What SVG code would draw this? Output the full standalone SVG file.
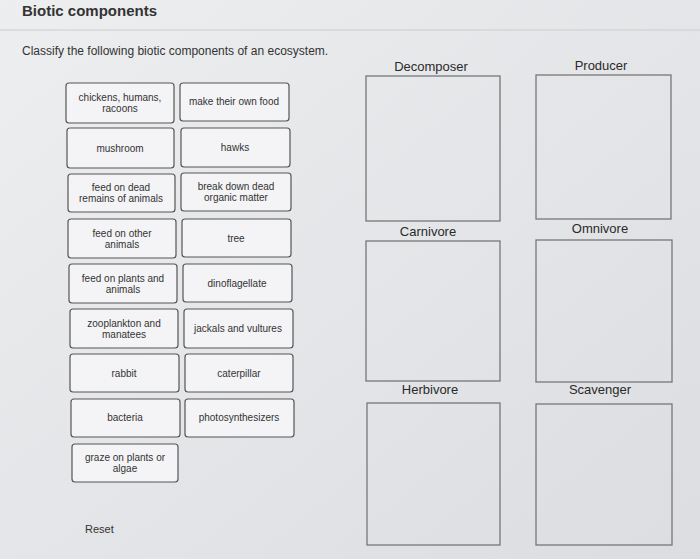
<svg xmlns="http://www.w3.org/2000/svg" width="700" height="559" viewBox="0 0 700 559">
<defs>
<linearGradient id="bg" x1="0" y1="0" x2="1" y2="1"><stop offset="0" stop-color="#eceef0"/><stop offset="1" stop-color="#dcdde0"/></linearGradient>
</defs>
<style>
text{font-family:"Liberation Sans",Arial,sans-serif;fill:#333}
.c rect{fill:#f4f4f6;stroke:#555;stroke-width:1.2}
.c text{font-size:10px;text-anchor:middle}
.b rect{fill:none;stroke:#777;stroke-width:1.3}
.b text{font-size:13px;text-anchor:middle;fill:#2a2a2a}
</style>
<rect width="700" height="559" fill="url(#bg)"/>
<text x="22" y="16" font-size="15" font-weight="bold" fill="#222">Biotic components</text>
<line x1="0" y1="30" x2="700" y2="30" stroke="#ccc"/>
<text x="22" y="55" font-size="12">Classify the following biotic components of an ecosystem.</text>
<g id="n1" class="c"><rect x="66" y="83" width="108" height="40" rx="3"/><text x="120" y="101">chickens, humans,</text><text x="120" y="112">racoons</text></g>
<g id="n2" class="c"><rect x="180" y="83" width="109" height="38" rx="3"/><text x="234" y="105">make their own food</text></g>
<g id="n3" class="c"><rect x="67" y="128" width="107" height="40" rx="3"/><text x="120" y="152">mushroom</text></g>
<g id="n4" class="c"><rect x="181" y="128" width="109" height="39" rx="3"/><text x="235" y="151">hawks</text></g>
<g id="n5" class="c"><rect x="68" y="174" width="107" height="38" rx="3"/><text x="121" y="191">feed on dead</text><text x="121" y="202">remains of animals</text></g>
<g id="n6" class="c"><rect x="181" y="173" width="110" height="38" rx="3"/><text x="236" y="190">break down dead</text><text x="236" y="201">organic matter</text></g>
<g id="n7" class="c"><rect x="68" y="219" width="108" height="39" rx="3"/><text x="122" y="237">feed on other</text><text x="122" y="248">animals</text></g>
<g id="n8" class="c"><rect x="182" y="219" width="109" height="38" rx="3"/><text x="236" y="242">tree</text></g>
<g id="n9" class="c"><rect x="69" y="264" width="108" height="39" rx="3"/><text x="123" y="282">feed on plants and</text><text x="123" y="293">animals</text></g>
<g id="n10" class="c"><rect x="183" y="264" width="109" height="38" rx="3"/><text x="237" y="287">dinoflagellate</text></g>
<g id="n11" class="c"><rect x="70" y="309" width="108" height="39" rx="3"/><text x="124" y="327">zooplankton and</text><text x="124" y="338">manatees</text></g>
<g id="n12" class="c"><rect x="184" y="309" width="109" height="39" rx="3"/><text x="238" y="332">jackals and vultures</text></g>
<g id="n13" class="c"><rect x="70" y="354" width="109" height="38" rx="3"/><text x="124" y="377">rabbit</text></g>
<g id="n14" class="c"><rect x="185" y="354" width="108" height="38" rx="3"/><text x="239" y="377">caterpillar</text></g>
<g id="n15" class="c"><rect x="71" y="399" width="109" height="38" rx="3"/><text x="125" y="421">bacteria</text></g>
<g id="n16" class="c"><rect x="185" y="399" width="109" height="38" rx="3"/><text x="239" y="421">photosynthesizers</text></g>
<g id="n17" class="c"><rect x="72" y="444" width="106" height="38" rx="3"/><text x="125" y="461">graze on plants or</text><text x="125" y="472">algae</text></g>
<text x="85" y="533" font-size="11">Reset</text>
<g id="b1" class="b"><text x="431" y="71">Decomposer</text><rect x="366" y="76" width="134" height="145"/></g>
<g id="b2" class="b"><text x="601" y="70">Producer</text><rect x="536" y="75" width="135" height="144"/></g>
<g id="b3" class="b"><text x="428" y="236">Carnivore</text><rect x="366" y="241" width="134" height="140"/></g>
<g id="b4" class="b"><text x="600" y="233">Omnivore</text><rect x="536" y="240" width="136" height="142"/></g>
<g id="b5" class="b"><text x="430" y="394">Herbivore</text><rect x="367" y="403" width="133" height="142"/></g>
<g id="b6" class="b"><text x="600" y="394">Scavenger</text><rect x="536" y="404" width="136" height="141"/></g>
<g id="connectors"/>
</svg>
